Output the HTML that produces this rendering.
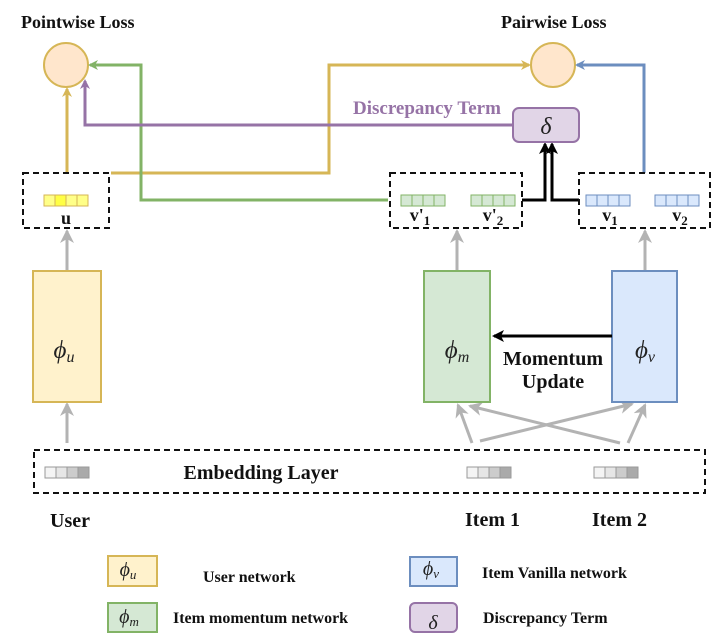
<!DOCTYPE html>
<html><head><meta charset="utf-8"><style>
html,body{margin:0;padding:0;background:#fff}
svg{display:block}
.t{font-family:"Liberation Serif",serif;font-weight:bold;fill:#111}
.m{font-family:"Liberation Serif",serif;font-style:italic;fill:#222}
</style></head><body>
<svg width="724" height="644" viewBox="0 0 724 644" xmlns="http://www.w3.org/2000/svg">
<defs>
<marker id="ay" markerWidth="10" markerHeight="10" refX="8" refY="5" orient="auto" markerUnits="userSpaceOnUse"><path d="M0,0 L10,5 L0,10 L3,5 z" fill="#d6b656"/></marker>
<marker id="ag" markerWidth="10" markerHeight="10" refX="8" refY="5" orient="auto" markerUnits="userSpaceOnUse"><path d="M0,0 L10,5 L0,10 L3,5 z" fill="#82b366"/></marker>
<marker id="ab" markerWidth="10" markerHeight="10" refX="8" refY="5" orient="auto" markerUnits="userSpaceOnUse"><path d="M0,0 L10,5 L0,10 L3,5 z" fill="#6c8ebf"/></marker>
<marker id="ap" markerWidth="10" markerHeight="10" refX="8" refY="5" orient="auto" markerUnits="userSpaceOnUse"><path d="M0,0 L10,5 L0,10 L3,5 z" fill="#9673a6"/></marker>
<marker id="ak" markerWidth="12" markerHeight="12" refX="10" refY="6" orient="auto" markerUnits="userSpaceOnUse"><path d="M0,0 L12,6 L0,12 L3,6 z" fill="#000"/></marker>
<marker id="ag2" markerWidth="14" markerHeight="14" refX="12" refY="7" orient="auto" markerUnits="userSpaceOnUse"><path d="M0,0 L14,7 L0,14 L4,7 z" fill="#b3b3b3"/></marker>
</defs>

<text class="t" x="21" y="28" font-size="18">Pointwise Loss</text>
<text class="t" x="501" y="28" font-size="18">Pairwise Loss</text>
<circle cx="66" cy="65" r="22" fill="#ffe6cc" stroke="#d6b656" stroke-width="2"/>
<circle cx="553" cy="65" r="22" fill="#ffe6cc" stroke="#d6b656" stroke-width="2"/>

<path d="M67,173 V89" stroke="#d6b656" stroke-width="3" fill="none" marker-end="url(#ay)"/>
<path d="M111,173 H329 V65 H529" stroke="#d6b656" stroke-width="3" fill="none" marker-end="url(#ay)"/>
<path d="M388,200 H141 V65 H90" stroke="#82b366" stroke-width="3" fill="none" marker-end="url(#ag)"/>
<path d="M513,125 H85 V81" stroke="#9673a6" stroke-width="3" fill="none" marker-end="url(#ap)"/>
<path d="M644,173 V65 H577" stroke="#6c8ebf" stroke-width="3" fill="none" marker-end="url(#ab)"/>
<path d="M522,200 H545 V144" stroke="#000" stroke-width="3" fill="none" marker-end="url(#ak)"/>
<path d="M579,200 H552 V144" stroke="#000" stroke-width="3" fill="none" marker-end="url(#ak)"/>

<text x="353" y="114" font-family="Liberation Serif,serif" font-weight="bold" font-size="19" fill="#9673a6">Discrepancy Term</text>
<rect x="513" y="108" width="66" height="34" rx="6" fill="#e1d5e7" stroke="#9673a6" stroke-width="2"/>
<text class="m" x="546" y="134" text-anchor="middle" font-size="24">δ</text>

<rect x="23" y="173" width="86" height="55" fill="none" stroke="#111" stroke-width="2" stroke-dasharray="6,4"/>
<g fill="#ffff88" stroke="#d6b656" stroke-width="1">
<rect x="44" y="195" width="11" height="11"/><rect x="55" y="195" width="11" height="11" fill="#ffff44"/><rect x="66" y="195" width="11" height="11"/><rect x="77" y="195" width="11" height="11"/></g>
<text class="t" x="66" y="224" text-anchor="middle" font-size="18">u</text>

<rect x="390" y="173" width="132" height="55" fill="none" stroke="#111" stroke-width="2" stroke-dasharray="6,4"/>
<g fill="#d5e8d4" stroke="#82b366" stroke-width="1">
<rect x="401" y="195" width="11" height="11"/><rect x="412" y="195" width="11" height="11"/><rect x="423" y="195" width="11" height="11"/><rect x="434" y="195" width="11" height="11"/>
<rect x="471" y="195" width="11" height="11"/><rect x="482" y="195" width="11" height="11"/><rect x="493" y="195" width="11" height="11"/><rect x="504" y="195" width="11" height="11"/></g>
<text class="t" x="420" y="221" text-anchor="middle" font-size="18">v'<tspan font-size="13" dy="4">1</tspan></text>
<text class="t" x="493" y="221" text-anchor="middle" font-size="18">v'<tspan font-size="13" dy="4">2</tspan></text>

<rect x="579" y="173" width="131" height="55" fill="none" stroke="#111" stroke-width="2" stroke-dasharray="6,4"/>
<g fill="#dae8fc" stroke="#6c8ebf" stroke-width="1">
<rect x="586" y="195" width="11" height="11"/><rect x="597" y="195" width="11" height="11"/><rect x="608" y="195" width="11" height="11"/><rect x="619" y="195" width="11" height="11"/>
<rect x="655" y="195" width="11" height="11"/><rect x="666" y="195" width="11" height="11"/><rect x="677" y="195" width="11" height="11"/><rect x="688" y="195" width="11" height="11"/></g>
<text class="t" x="610" y="221" text-anchor="middle" font-size="18">v<tspan font-size="13" dy="4">1</tspan></text>
<text class="t" x="680" y="221" text-anchor="middle" font-size="18">v<tspan font-size="13" dy="4">2</tspan></text>

<g stroke="#b3b3b3" stroke-width="3" fill="none">
<path d="M67,271 V231" marker-end="url(#ag2)"/>
<path d="M457,271 V231" marker-end="url(#ag2)"/>
<path d="M645,271 V231" marker-end="url(#ag2)"/>
<path d="M67,443 V404" marker-end="url(#ag2)"/>
<path d="M472,443 L458,405" marker-end="url(#ag2)"/>
<path d="M480,441 L632,404" marker-end="url(#ag2)"/>
<path d="M620,443 L470,406" marker-end="url(#ag2)"/>
<path d="M628,443 L645,405" marker-end="url(#ag2)"/>
</g>

<rect x="33" y="271" width="68" height="131" fill="#fff2cc" stroke="#d6b656" stroke-width="2"/>
<text class="m" x="64" y="358" text-anchor="middle" font-size="25">ϕ<tspan font-size="16" dy="4">u</tspan></text>
<rect x="424" y="271" width="66" height="131" fill="#d5e8d4" stroke="#82b366" stroke-width="2"/>
<text class="m" x="457" y="358" text-anchor="middle" font-size="25">ϕ<tspan font-size="16" dy="4">m</tspan></text>
<rect x="612" y="271" width="65" height="131" fill="#dae8fc" stroke="#6c8ebf" stroke-width="2"/>
<text class="m" x="645" y="358" text-anchor="middle" font-size="25">ϕ<tspan font-size="16" dy="4">v</tspan></text>
<path d="M612,336 H494" stroke="#000" stroke-width="3" fill="none" marker-end="url(#ak)"/>
<text class="t" x="553" y="365" text-anchor="middle" font-size="20">Momentum</text>
<text class="t" x="553" y="388" text-anchor="middle" font-size="20">Update</text>

<rect x="34" y="450" width="671" height="43" fill="none" stroke="#111" stroke-width="2" stroke-dasharray="6,4"/>
<text class="t" x="261" y="479" text-anchor="middle" font-size="20">Embedding Layer</text>
<g stroke="#999" stroke-width="1">
<rect x="45" y="467" width="11" height="11" fill="#f4f4f4"/><rect x="56" y="467" width="11" height="11" fill="#e6e6e6"/><rect x="67" y="467" width="11" height="11" fill="#cccccc"/><rect x="78" y="467" width="11" height="11" fill="#aaaaaa"/>
<rect x="467" y="467" width="11" height="11" fill="#f4f4f4"/><rect x="478" y="467" width="11" height="11" fill="#e6e6e6"/><rect x="489" y="467" width="11" height="11" fill="#cccccc"/><rect x="500" y="467" width="11" height="11" fill="#aaaaaa"/>
<rect x="594" y="467" width="11" height="11" fill="#f4f4f4"/><rect x="605" y="467" width="11" height="11" fill="#e6e6e6"/><rect x="616" y="467" width="11" height="11" fill="#cccccc"/><rect x="627" y="467" width="11" height="11" fill="#aaaaaa"/>
</g>
<text class="t" x="50" y="527" font-size="20">User</text>
<text class="t" x="465" y="526" font-size="20">Item 1</text>
<text class="t" x="592" y="526" font-size="20">Item 2</text>

<rect x="108" y="556" width="49" height="30" fill="#fff2cc" stroke="#d6b656" stroke-width="2"/>
<text class="m" x="128" y="576" text-anchor="middle" font-size="20">ϕ<tspan font-size="13" dy="3">u</tspan></text>
<text class="t" x="203" y="582" font-size="16">User network</text>
<rect x="108" y="603" width="49" height="29" fill="#d5e8d4" stroke="#82b366" stroke-width="2"/>
<text class="m" x="129" y="623" text-anchor="middle" font-size="20">ϕ<tspan font-size="13" dy="3">m</tspan></text>
<text class="t" x="173" y="623" font-size="16">Item momentum network</text>
<rect x="410" y="557" width="47" height="29" fill="#dae8fc" stroke="#6c8ebf" stroke-width="2"/>
<text class="m" x="431" y="575" text-anchor="middle" font-size="20">ϕ<tspan font-size="13" dy="3">v</tspan></text>
<text class="t" x="482" y="578" font-size="16">Item Vanilla network</text>
<rect x="410" y="603" width="47" height="29" rx="5" fill="#e1d5e7" stroke="#9673a6" stroke-width="2"/>
<text class="m" x="433" y="629" text-anchor="middle" font-size="20">δ</text>
<text class="t" x="483" y="623" font-size="16">Discrepancy Term</text>
</svg>
</body></html>
